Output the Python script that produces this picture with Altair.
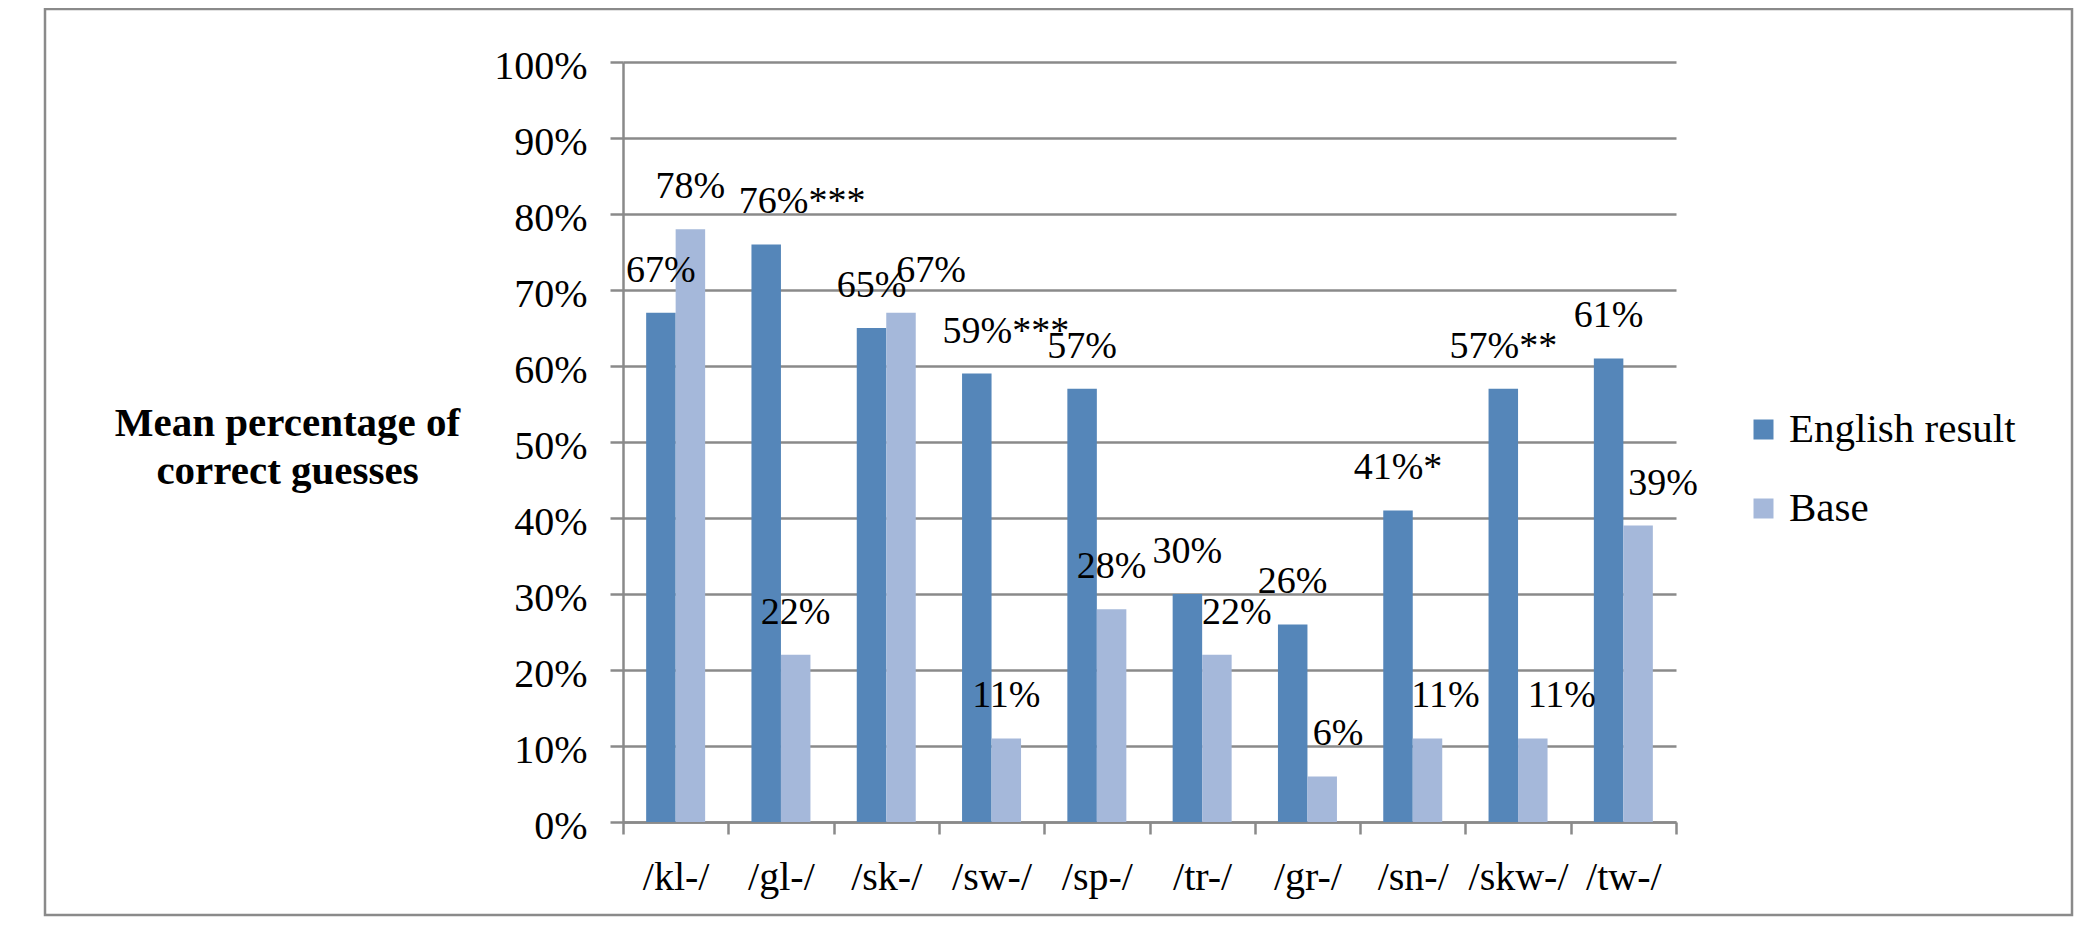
import altair as alt
import pandas as pd

# ---- data ----
categories = ["/kl-/", "/gl-/", "/sk-/", "/sw-/", "/sp-/", "/tr-/", "/gr-/", "/sn-/", "/skw-/", "/tw-/"]
series_names = ["English result", "Base"]
english_values = [67, 76, 65, 59, 57, 30, 26, 41, 57, 61]
base_values = [78, 22, 67, 11, 28, 22, 6, 11, 11, 39]
english_stars = ["", "***", "", "***", "", "", "", "*", "**", ""]
y_tick_values = [0, 10, 20, 30, 40, 50, 60, 70, 80, 90, 100]

rows = []
for i, c in enumerate(categories):
    rows.append({"cat": c, "series": series_names[0], "value": english_values[i],
                 "label": f"{english_values[i]}%{english_stars[i]}"})
    rows.append({"cat": c, "series": series_names[1], "value": base_values[i],
                 "label": f"{base_values[i]}%"})
df = pd.DataFrame(rows)

# sideways nudges (px) of the labels that were moved in the original
label_nudge = {
    ("/gl-/", "English result"): 36, ("/sw-/", "English result"): 29,
    ("/sk-/", "Base"): 30, ("/tr-/", "Base"): 20, ("/gr-/", "Base"): 16,
    ("/sn-/", "Base"): 18, ("/skw-/", "Base"): 29, ("/tw-/", "Base"): 25,
}
df["nudge"] = [label_nudge.get((c, s), 0) for c, s in zip(df["cat"], df["series"])]

FONT = "Liberation Serif"
GRAY = "#8a8a8a"
COLORS = ["#5586b9", "#a5b8da"]

x_enc = alt.X("cat:N", sort=categories,
              scale=alt.Scale(paddingInner=0, paddingOuter=0),
              axis=alt.Axis(title=None, labelAngle=0, tickBand="extent",
                            labelFont=FONT, labelFontSize=40, labelColor="black",
                            labelPadding=23, tickSize=12, tickColor=GRAY, tickWidth=2.5,
                            domainColor=GRAY, domainWidth=2.5, grid=False))
xoff_enc = alt.XOffset("series:N", sort=series_names,
                       scale=alt.Scale(paddingInner=0, paddingOuter=0.785))
y_enc = alt.Y("value:Q", scale=alt.Scale(domain=[0, 100], nice=False),
              axis=alt.Axis(values=y_tick_values, labelExpr="datum.value + '%'",
                            title=["Mean percentage of", "correct guesses"],
                            titleFont=FONT, titleFontSize=41, titleFontWeight="bold",
                            titleColor="black", titleAngle=0, titleAlign="center",
                            titleBaseline="alphabetic", titleX=-336, titleY=373,
                            titleLineHeight=48,
                            labelFont=FONT, labelFontSize=40, labelColor="black",
                            labelPadding=23, labelOffset=4,
                            tickSize=13, tickColor=GRAY, tickWidth=2.5,
                            domainColor=GRAY, domainWidth=2.5,
                            grid=True, gridColor=GRAY, gridWidth=2.5))

bars = alt.Chart(df).mark_bar().encode(
    x=x_enc, xOffset=xoff_enc, y=y_enc,
    color=alt.Color("series:N", sort=series_names,
                    scale=alt.Scale(domain=series_names, range=COLORS),
                    legend=alt.Legend(title=None, orient="none", legendX=1120, legendY=347,
                                      symbolType="square", symbolSize=400,
                                      symbolStrokeWidth=0, labelFont=FONT,
                                      labelFontSize=41, labelColor="black",
                                      labelOffset=5, rowPadding=37, padding=0,
                                      labelLimit=500)),
)

text_layers = []
for n in sorted(df["nudge"].unique()):
    text_layers.append(
        alt.Chart(df).transform_filter(f"datum.nudge == {int(n)}")
        .mark_text(font=FONT, fontSize=38, color="black", baseline="alphabetic",
                   align="center", dy=-31, dx=int(n))
        .encode(x=alt.X("cat:N", sort=categories), xOffset=alt.XOffset("series:N", sort=series_names),
                y=alt.Y("value:Q"), text="label:N")
    )

frame = alt.Chart(pd.DataFrame({"k": [0]})).mark_rect(
    filled=False, stroke=GRAY, strokeWidth=2.5
).encode(x=alt.value(-578), x2=alt.value(1449), y=alt.value(-53), y2=alt.value(853))

chart = alt.layer(bars, *text_layers, frame).properties(
    width=1053, height=760,
    autosize=alt.AutoSizeParams(type="none"),
    padding={"left": 615, "top": 54, "right": 400, "bottom": 95},
    background="white",
).configure_view(stroke="transparent")

chart.save("out.html", embed_options={"renderer": "svg", "actions": False})
